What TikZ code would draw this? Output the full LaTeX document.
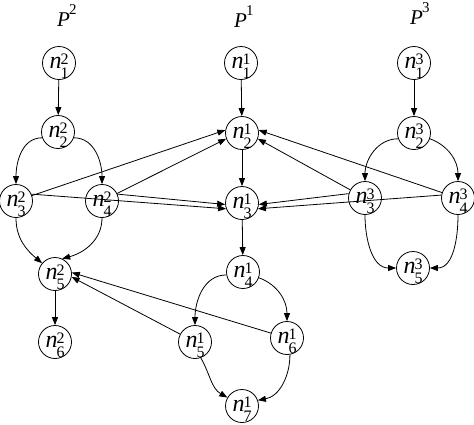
\documentclass[tikz,border=0pt]{standalone}
\usepackage{fontspec}
\setmainfont{Liberation Serif}
\usetikzlibrary{arrows.meta}
\newcommand{\nlab}[2]{{\fontsize{24}{24}\selectfont\itshape n}\kern-1pt\smash{\raisebox{-10pt}{\fontsize{16}{13}\selectfont\begin{tabular}[b]{@{}l@{}}#1\\#2\end{tabular}}}}
\newcommand{\plab}[1]{{\fontsize{21}{21}\selectfont\itshape P}\kern-1pt\raisebox{12pt}{\fontsize{15}{15}\selectfont #1}}
\begin{document}
\begin{tikzpicture}[x=1pt,y=1pt,
  nd/.style={circle,draw,line width=0.8pt,minimum size=33pt,inner sep=0pt},
  pl/.style={anchor=base west,inner sep=0pt},
  ar/.style={-{Triangle[length=8pt,width=6pt]},line width=0.8pt}]
\useasboundingbox (0,0) rectangle (474,-424);
% labels
\node[pl] (P2) at (57,-26) {\plab{2}};
\node[pl] (P1) at (234,-27) {\plab{1}};
\node[pl] (P3) at (410,-24) {\plab{3}};
% P2
\node[nd] (a1) at (59,-63) {\nlab{2}{1}};
\node[nd] (a2) at (58,-132) {\nlab{2}{2}};
\node[nd] (a3) at (16,-201) {\nlab{2}{3}};
\node[nd] (a4) at (102,-201) {\nlab{2}{4}};
\node[nd] (a5) at (55,-274) {\nlab{2}{5}};
\node[nd] (a6) at (55,-342) {\nlab{2}{6}};
% P1
\node[nd] (b1) at (241,-63) {\nlab{1}{1}};
\node[nd] (b2) at (242,-133) {\nlab{1}{2}};
\node[nd] (b3) at (242,-203) {\nlab{1}{3}};
\node[nd] (b4) at (243,-272) {\nlab{1}{4}};
\node[nd] (b5) at (195,-342) {\nlab{1}{5}};
\node[nd] (b6) at (287,-338) {\nlab{1}{6}};
\node[nd] (b7) at (242,-406) {\nlab{1}{7}};
% P3
\node[nd] (c1) at (414,-63) {\nlab{3}{1}};
\node[nd] (c2) at (414,-133) {\nlab{3}{2}};
\node[nd] (c3) at (365,-198) {\nlab{3}{3}};
\node[nd] (c4) at (458,-198) {\nlab{3}{4}};
\node[nd] (c5) at (413,-268) {\nlab{3}{5}};
% P2 edges
\draw[ar] (a1) -- (a2);
\draw[ar] (a2.200) to[out=180,in=90] (a3.north);
\draw[ar] (a2.-20) to[out=0,in=90] (a4.north);
\draw[ar] (a3.south) to[out=-90,in=140] (a5.140);
\draw[ar] (a4.south) to[out=-90,in=15] (a5.65);
\draw[ar] (a5) -- (a6);
% P1 edges
\draw[ar] (b1) -- (b2);
\draw[ar] (b2) -- (b3);
\draw[ar] (b3) -- (b4);
\draw[ar] (b4.190) to[out=180,in=90] (b5.north);
\draw[ar] (b4.-20) to[out=-20,in=90] (b6.north);
\draw[ar] (b5.-70) to[out=-60,in=150] (b7.150);
\draw[ar] (b6.-80) to[out=-90,in=10] (b7.20);
% P3 edges
\draw[ar] (c1) -- (c2);
\draw[ar] (c2.200) to[out=180,in=90] (c3.north);
\draw[ar] (c2.-20) to[out=-20,in=90] (c4.north);
\draw[ar] (c3.south) to[out=-90,in=180] (c5.west);
\draw[ar] (c4.south) to[out=-90,in=0] (c5.east);
% cross edges
\draw[ar] (a3) -- (b2.170);
\draw[ar] (a4) -- (b2.200);
\draw[ar] (a3.24) -- (b3.200);
\draw[ar] (a4.24) -- (b3.185);
\draw[ar] (c3) -- (b2.-20);
\draw[ar] (c4) -- (b2.10);
\draw[ar] (c3.165) -- (b3.-5);
\draw[ar] (c4.170) -- (b3.-20);
\draw[ar] (b5) -- (a5.-10);
\draw[ar] (b6) -- (a5.5);
\end{tikzpicture}
\end{document}
